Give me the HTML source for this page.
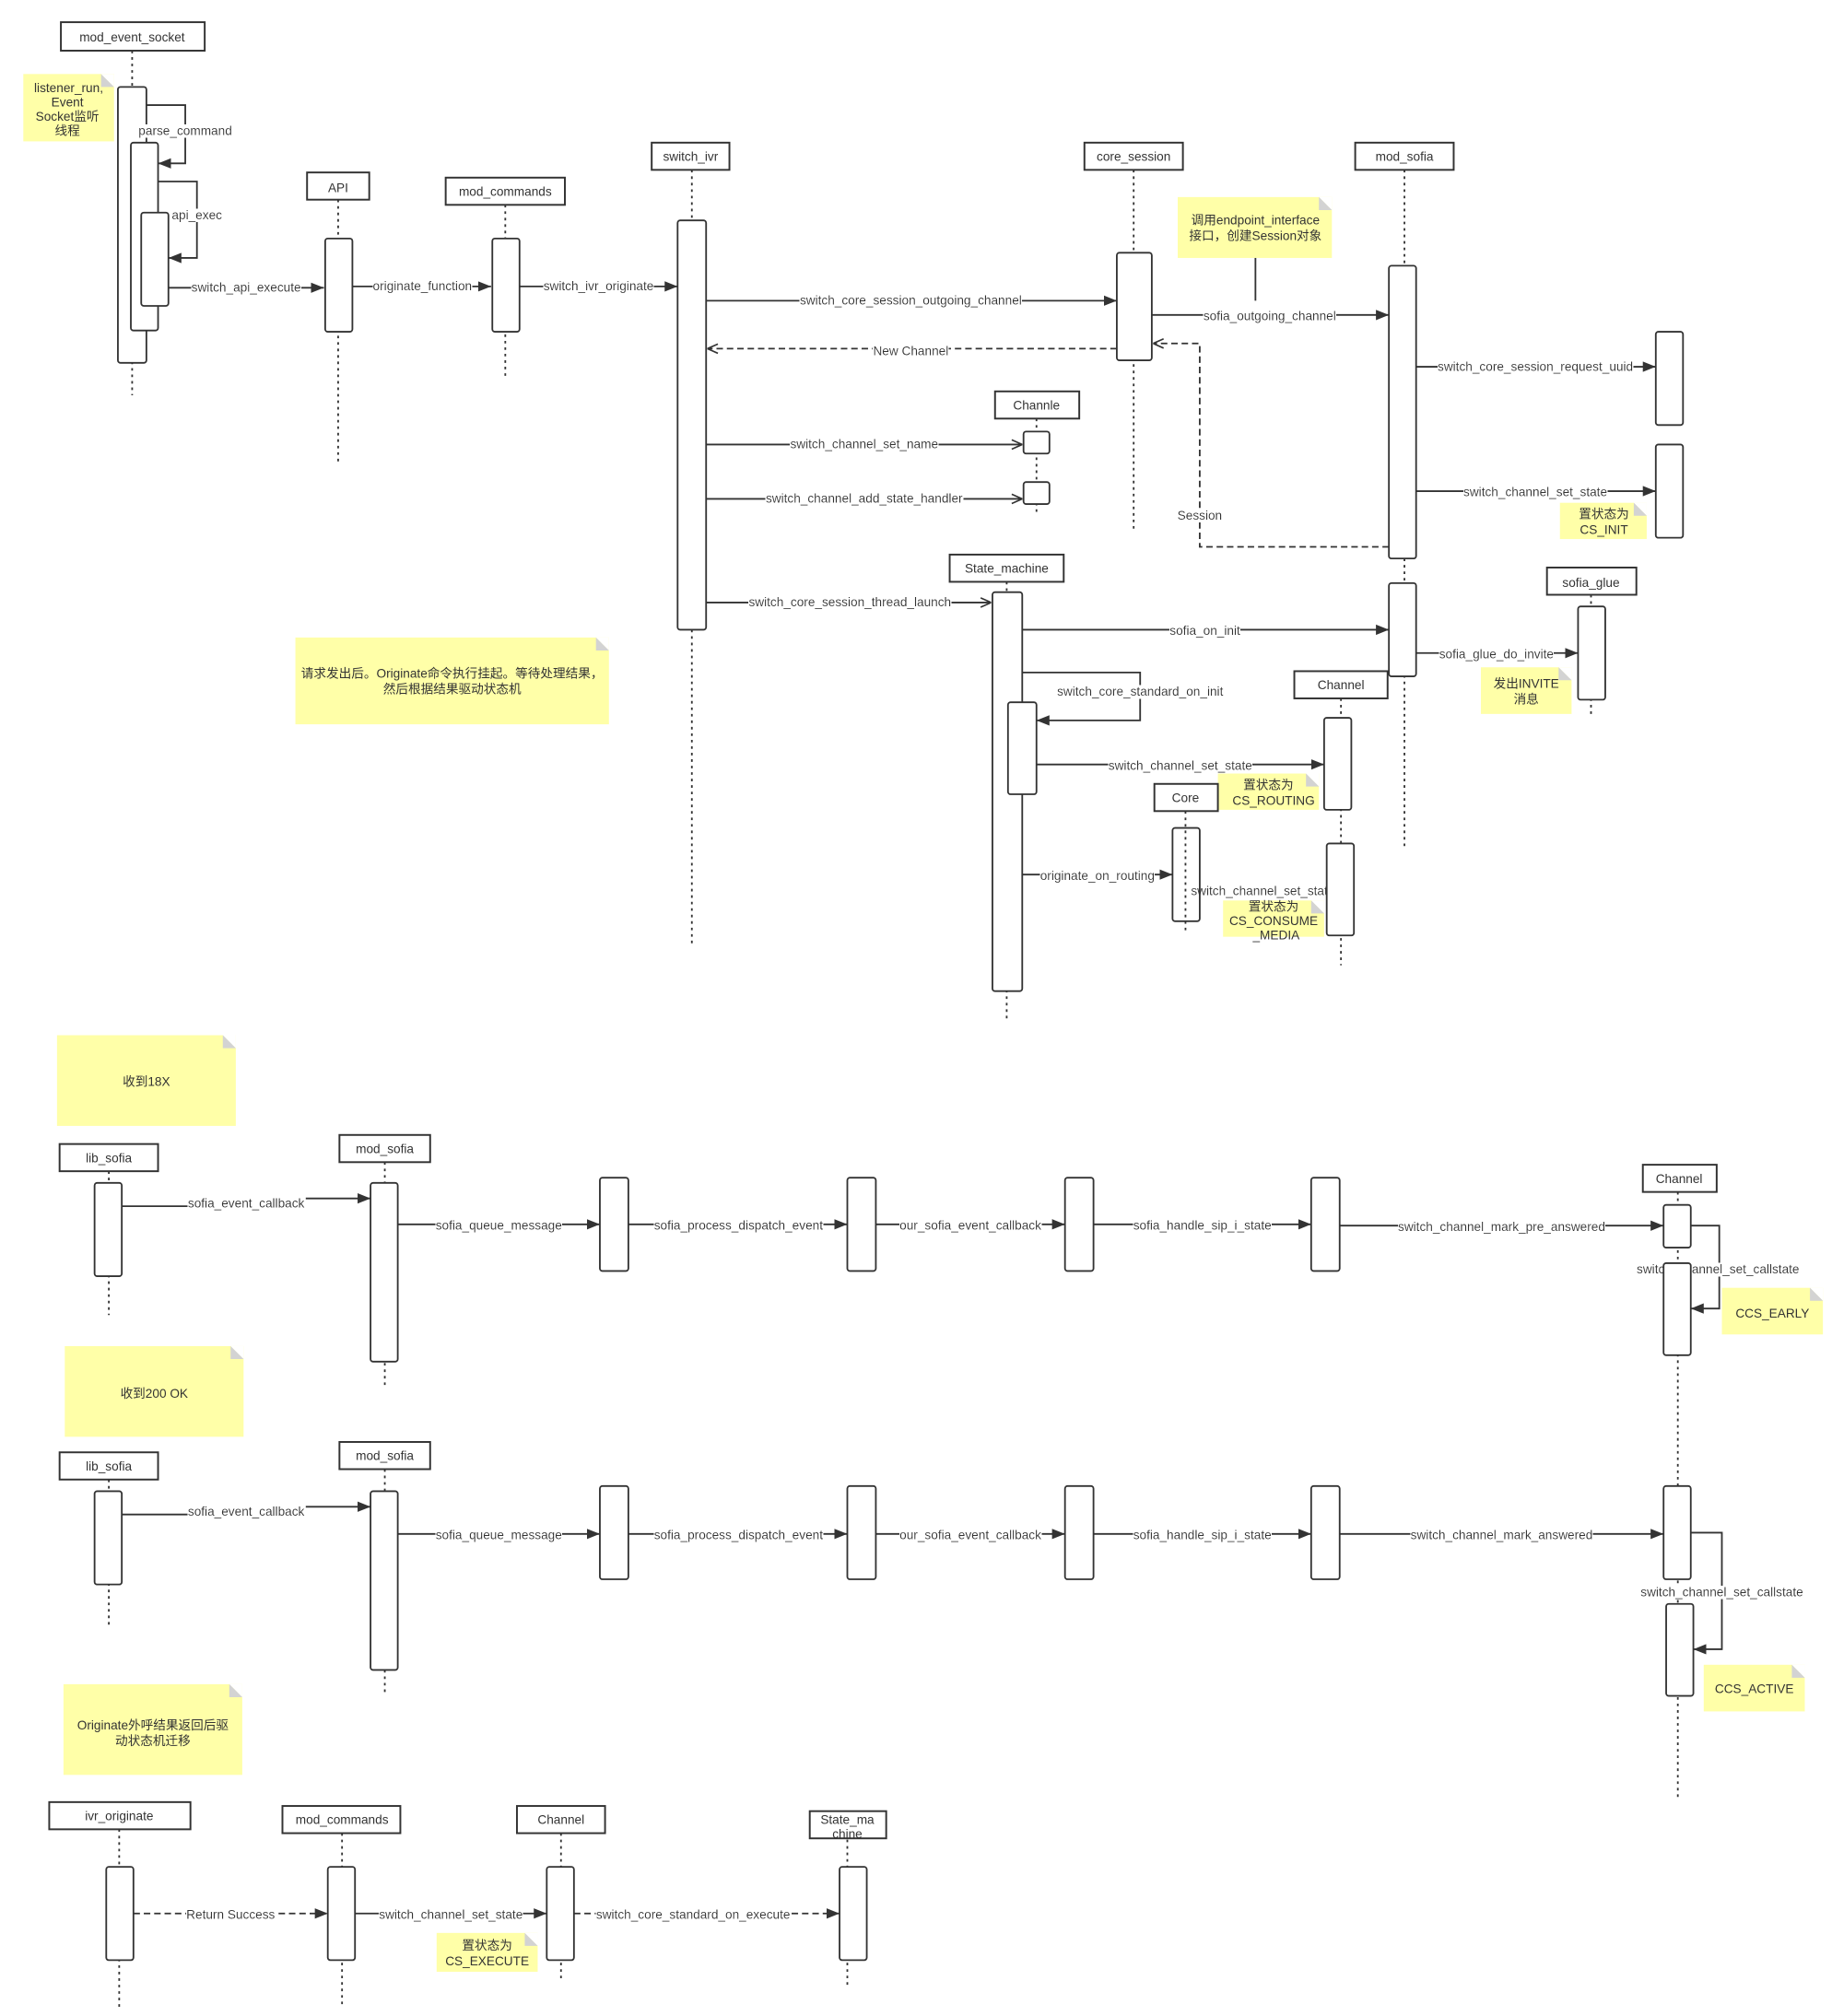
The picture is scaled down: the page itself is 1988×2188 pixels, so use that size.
<!DOCTYPE html>
<html><head><meta charset="utf-8">
<style>
html,body{margin:0;padding:0;background:#fff;}
svg{display:block;}
text{font-family:"Liberation Sans","Noto Sans CJK SC",sans-serif;font-size:9.7px;fill:#333;}
.lb{filter:url(#bg);}
.actor{fill:#fff;stroke:#333;stroke-width:1.4;}
.act{fill:#fff;stroke:#333;stroke-width:1.3;}
.ll{stroke:#333;stroke-width:1.3;stroke-dasharray:2,3;fill:none;}
.m{stroke:#333;stroke-width:1.3;fill:none;}
.d{stroke:#333;stroke-width:1.3;fill:none;stroke-dasharray:5,3;}
.note{fill:#ffffa8;}
.fold{fill:#d3d3d3;}
</style></head><body>
<svg width="1988" height="2188" viewBox="0 0 1414 1556" xmlns="http://www.w3.org/2000/svg">
<defs>
<filter id="bg" x="0" y="0.05" width="1" height="0.95"><feFlood flood-color="#fff"/><feComposite in="SourceGraphic"/></filter>
<marker id="f" viewBox="0 0 10 10" refX="10" refY="5" markerWidth="10" markerHeight="10" markerUnits="userSpaceOnUse" orient="auto"><path d="M0,1 L10,5 L0,9 z" fill="#333"/></marker>
<marker id="o" viewBox="0 0 10 10" refX="10" refY="5" markerWidth="9" markerHeight="9" markerUnits="userSpaceOnUse" orient="auto"><path d="M1,1 L10,5 L1,9" fill="none" stroke="#333" stroke-width="1.3"/></marker>
</defs>

<!-- ===== Notes ===== -->
<g>
<rect class="note" x="18" y="57" width="70" height="52"/><path d="M78,57 L88,57 L88,67z" fill="#fff"/><path class="fold" d="M78,57 L88,67 L78,67z"/>
<text x="53" y="71" text-anchor="middle">listener_run,</text>
<text x="52" y="82" text-anchor="middle">Event</text>
<text x="52" y="93" text-anchor="middle">Socket监听</text>
<text x="52" y="104" text-anchor="middle">线程</text>

<rect class="note" x="909" y="152" width="119" height="47"/><path d="M1018,152 L1028,152 L1028,162z" fill="#fff"/><path class="fold" d="M1018,152 L1028,162 L1018,162z"/>
<text x="969" y="173" text-anchor="middle">调用endpoint_interface</text>
<text x="969" y="185" text-anchor="middle">接口，创建Session对象</text>

<rect class="note" x="1204" y="388" width="67" height="28"/><path d="M1261,388 L1271,388 L1271,398z" fill="#fff"/><path class="fold" d="M1261,388 L1271,398 L1261,398z"/>
<text x="1238" y="400" text-anchor="middle">置状态为</text>
<text x="1238" y="412" text-anchor="middle">CS_INIT</text>

<rect class="note" x="228" y="492" width="242" height="67"/><path d="M460,492 L470,492 L470,502z" fill="#fff"/><path class="fold" d="M460,492 L470,502 L460,502z"/>
<text x="349" y="523" text-anchor="middle">请求发出后。Originate命令执行挂起。等待处理结果，</text>
<text x="349" y="535" text-anchor="middle">然后根据结果驱动状态机</text>

<rect class="note" x="1143" y="515" width="70" height="36"/><path d="M1203,515 L1213,515 L1213,525z" fill="#fff"/><path class="fold" d="M1203,515 L1213,525 L1203,525z"/>
<text x="1178" y="531" text-anchor="middle">发出INVITE</text>
<text x="1178" y="543" text-anchor="middle">消息</text>

<rect class="note" x="940" y="597" width="78" height="28"/><path d="M1008,597 L1018,597 L1018,607z" fill="#fff"/><path class="fold" d="M1008,597 L1018,607 L1008,607z"/>
<text x="979" y="609" text-anchor="middle">置状态为</text>
<text x="983" y="621" text-anchor="middle">CS_ROUTING</text>

<rect class="note" x="944" y="695" width="78" height="28"/><path d="M1012,695 L1022,695 L1022,705z" fill="#fff"/><path class="fold" d="M1012,695 L1022,705 L1012,705z"/>
<text x="983" y="703" text-anchor="middle">置状态为</text>
<text x="983" y="714" text-anchor="middle">CS_CONSUME</text>
<text x="985" y="725" text-anchor="middle">_MEDIA</text>

<rect class="note" x="44" y="799" width="138" height="70"/><path d="M172,799 L182,799 L182,809z" fill="#fff"/><path class="fold" d="M172,799 L182,809 L172,809z"/>
<text x="113" y="838" text-anchor="middle">收到18X</text>

<rect class="note" x="1329" y="994" width="78" height="36"/><path d="M1397,994 L1407,994 L1407,1004z" fill="#fff"/><path class="fold" d="M1397,994 L1407,1004 L1397,1004z"/>
<text x="1368" y="1017" text-anchor="middle">CCS_EARLY</text>

<rect class="note" x="50" y="1039" width="138" height="70"/><path d="M178,1039 L188,1039 L188,1049z" fill="#fff"/><path class="fold" d="M178,1039 L188,1049 L178,1049z"/>
<text x="119" y="1079" text-anchor="middle">收到200 OK</text>

<rect class="note" x="1315" y="1285" width="78" height="36"/><path d="M1383,1285 L1393,1285 L1393,1295z" fill="#fff"/><path class="fold" d="M1383,1285 L1393,1295 L1383,1295z"/>
<text x="1354" y="1307" text-anchor="middle">CCS_ACTIVE</text>

<rect class="note" x="49" y="1300" width="138" height="70"/><path d="M177,1300 L187,1300 L187,1310z" fill="#fff"/><path class="fold" d="M177,1300 L187,1310 L177,1310z"/>
<text x="118" y="1335" text-anchor="middle">Originate外呼结果返回后驱</text>
<text x="118" y="1347" text-anchor="middle">动状态机迁移</text>

<rect class="note" x="337" y="1492" width="78" height="30"/><path d="M405,1492 L415,1492 L415,1502z" fill="#fff"/><path class="fold" d="M405,1492 L415,1502 L405,1502z"/>
<text x="376" y="1505" text-anchor="middle">置状态为</text>
<text x="376" y="1517" text-anchor="middle">CS_EXECUTE</text>
</g>

<!-- ===== Lifelines ===== -->
<g>
<line class="ll" x1="102" y1="39" x2="102" y2="305"/>
<line class="ll" x1="261" y1="154" x2="261" y2="357"/>
<line class="ll" x1="390" y1="158" x2="390" y2="290"/>
<line class="ll" x1="534" y1="131" x2="534" y2="730"/>
<line class="ll" x1="875" y1="131" x2="875" y2="410"/>
<line class="ll" x1="1084" y1="131" x2="1084" y2="655"/>
<line class="ll" x1="800" y1="323" x2="800" y2="395"/>
<line class="ll" x1="777" y1="449" x2="777" y2="787"/>
<line class="ll" x1="1035" y1="539" x2="1035" y2="745"/>
<line class="ll" x1="915" y1="626" x2="915" y2="718"/>
<line class="ll" x1="1228" y1="459" x2="1228" y2="552"/>
<line class="ll" x1="84" y1="904" x2="84" y2="1015"/>
<line class="ll" x1="297" y1="897" x2="297" y2="1070"/>
<line class="ll" x1="1295" y1="920" x2="1295" y2="1390"/>
<line class="ll" x1="84" y1="1142" x2="84" y2="1255"/>
<line class="ll" x1="297" y1="1134" x2="297" y2="1308"/>
<line class="ll" x1="92" y1="1412" x2="92" y2="1550"/>
<line class="ll" x1="264" y1="1415" x2="264" y2="1548"/>
<line class="ll" x1="433" y1="1415" x2="433" y2="1528"/>
<line class="ll" x1="654" y1="1420" x2="654" y2="1532"/>
</g>

<!-- ===== Messages ===== -->
<g>
<polyline class="m" points="113,81 143,81 143,126 122,126" marker-end="url(#f)"/>
<polyline class="m" points="122,140 152,140 152,199 130,199" marker-end="url(#f)"/>
<line class="m" x1="130" y1="222" x2="250" y2="222" marker-end="url(#f)"/>
<text class="lb" x="190" y="225" text-anchor="middle">switch_api_execute</text>
<line class="m" x1="272" y1="221" x2="379" y2="221" marker-end="url(#f)"/>
<text class="lb" x="326" y="224" text-anchor="middle">originate_function</text>
<line class="m" x1="401" y1="221" x2="523" y2="221" marker-end="url(#f)"/>
<text class="lb" x="462" y="224" text-anchor="middle">switch_ivr_originate</text>

<line class="m" x1="545" y1="232" x2="862" y2="232" marker-end="url(#f)"/>
<text class="lb" x="703" y="235" text-anchor="middle">switch_core_session_outgoing_channel</text>
<line class="d" x1="862" y1="269" x2="546" y2="269" marker-end="url(#o)"/>
<text class="lb" x="703" y="274" text-anchor="middle">New Channel</text>
<line class="m" x1="969" y1="199" x2="969" y2="232"/>
<line class="m" x1="889" y1="243" x2="1072" y2="243" marker-end="url(#f)"/>
<text class="lb" x="980" y="247" text-anchor="middle">sofia_outgoing_channel</text>
<polyline class="d" points="1072,422 926,422 926,265 890,265" marker-end="url(#o)"/>
<text class="lb" x="926" y="401" text-anchor="middle">Session</text>

<line class="m" x1="1093" y1="283" x2="1278" y2="283" marker-end="url(#f)"/>
<text class="lb" x="1185" y="286" text-anchor="middle">switch_core_session_request_uuid</text>
<line class="m" x1="1093" y1="379" x2="1278" y2="379" marker-end="url(#f)"/>
<text class="lb" x="1185" y="383" text-anchor="middle">switch_channel_set_state</text>

<line class="m" x1="545" y1="343" x2="789" y2="343" marker-end="url(#o)"/>
<text class="lb" x="667" y="346" text-anchor="middle">switch_channel_set_name</text>
<line class="m" x1="545" y1="385" x2="789" y2="385" marker-end="url(#o)"/>
<text class="lb" x="667" y="388" text-anchor="middle">switch_channel_add_state_handler</text>
<line class="m" x1="545" y1="465" x2="765" y2="465" marker-end="url(#o)"/>
<text class="lb" x="656" y="468" text-anchor="middle">switch_core_session_thread_launch</text>

<line class="m" x1="789" y1="486" x2="1072" y2="486" marker-end="url(#f)"/>
<text class="lb" x="930" y="490" text-anchor="middle">sofia_on_init</text>
<polyline class="m" points="789,519 880,519 880,556 800,556" marker-end="url(#f)"/>
<text class="lb" x="880" y="537" text-anchor="middle">switch_core_standard_on_init</text>
<line class="m" x1="800" y1="590" x2="1022" y2="590" marker-end="url(#f)"/>
<text class="lb" x="911" y="594" text-anchor="middle">switch_channel_set_state</text>
<line class="m" x1="1093" y1="504" x2="1218" y2="504" marker-end="url(#f)"/>
<text class="lb" x="1155" y="508" text-anchor="middle">sofia_glue_do_invite</text>
<line class="m" x1="789" y1="675" x2="905" y2="675" marker-end="url(#f)"/>
<text class="lb" x="847" y="679" text-anchor="middle">originate_on_routing</text>
<text class="lb" x="972" y="691" text-anchor="middle">switch_channel_set_stat</text>

<!-- section 2 -->
<polyline class="m" points="94,931 145,931"/>
<polyline class="m" points="236,925 286,925" marker-end="url(#f)"/>
<text class="lb" x="190" y="932" text-anchor="middle">sofia_event_callback</text>
<line class="m" x1="307" y1="945" x2="463" y2="945" marker-end="url(#f)"/>
<text class="lb" x="385" y="949" text-anchor="middle">sofia_queue_message</text>
<line class="m" x1="485" y1="945" x2="654" y2="945" marker-end="url(#f)"/>
<text class="lb" x="570" y="949" text-anchor="middle">sofia_process_dispatch_event</text>
<line class="m" x1="676" y1="945" x2="822" y2="945" marker-end="url(#f)"/>
<text class="lb" x="749" y="949" text-anchor="middle">our_sofia_event_callback</text>
<line class="m" x1="844" y1="945" x2="1012" y2="945" marker-end="url(#f)"/>
<text class="lb" x="928" y="949" text-anchor="middle">sofia_handle_sip_i_state</text>
<line class="m" x1="1034" y1="946" x2="1284" y2="946" marker-end="url(#f)"/>
<text class="lb" x="1159" y="950" text-anchor="middle">switch_channel_mark_pre_answered</text>
<polyline class="m" points="1305,946 1327,946 1327,1010 1305,1010" marker-end="url(#f)"/>
<text class="lb" x="1326" y="983" text-anchor="middle">switch_channel_set_callstate</text>

<!-- section 3 -->
<polyline class="m" points="94,1169 145,1169"/>
<polyline class="m" points="236,1163 286,1163" marker-end="url(#f)"/>
<text class="lb" x="190" y="1170" text-anchor="middle">sofia_event_callback</text>
<line class="m" x1="307" y1="1184" x2="463" y2="1184" marker-end="url(#f)"/>
<text class="lb" x="385" y="1188" text-anchor="middle">sofia_queue_message</text>
<line class="m" x1="485" y1="1184" x2="654" y2="1184" marker-end="url(#f)"/>
<text class="lb" x="570" y="1188" text-anchor="middle">sofia_process_dispatch_event</text>
<line class="m" x1="676" y1="1184" x2="822" y2="1184" marker-end="url(#f)"/>
<text class="lb" x="749" y="1188" text-anchor="middle">our_sofia_event_callback</text>
<line class="m" x1="844" y1="1184" x2="1012" y2="1184" marker-end="url(#f)"/>
<text class="lb" x="928" y="1188" text-anchor="middle">sofia_handle_sip_i_state</text>
<line class="m" x1="1034" y1="1184" x2="1284" y2="1184" marker-end="url(#f)"/>
<text class="lb" x="1159" y="1188" text-anchor="middle">switch_channel_mark_answered</text>
<polyline class="m" points="1305,1183 1329,1183 1329,1273 1307,1273" marker-end="url(#f)"/>
<text class="lb" x="1329" y="1232" text-anchor="middle">switch_channel_set_callstate</text>

<!-- section 4 -->
<line class="d" x1="103" y1="1477" x2="253" y2="1477" marker-end="url(#f)"/>
<text class="lb" x="178" y="1481" text-anchor="middle">Return Success</text>
<line class="m" x1="274" y1="1477" x2="422" y2="1477" marker-end="url(#f)"/>
<text class="lb" x="348" y="1481" text-anchor="middle">switch_channel_set_state</text>
<line class="d" x1="443" y1="1477" x2="648" y2="1477" marker-end="url(#f)"/>
<text class="lb" x="535" y="1481" text-anchor="middle">switch_core_standard_on_execute</text>
</g>

<!-- ===== Activations ===== -->
<g>
<rect class="act" x="91" y="67" width="22" height="213" rx="2"/>
<rect class="act" x="101" y="110" width="21" height="145" rx="2"/>
<rect class="act" x="109" y="164" width="21" height="72" rx="2"/>
<rect class="act" x="251" y="184" width="21" height="72" rx="2"/>
<rect class="act" x="380" y="184" width="21" height="72" rx="2"/>
<rect class="act" x="523" y="170" width="22" height="316" rx="2"/>
<rect class="act" x="862" y="195" width="27" height="83" rx="2"/>
<rect class="act" x="1072" y="205" width="21" height="226" rx="2"/>
<rect class="act" x="1072" y="450" width="21" height="72" rx="2"/>
<rect class="act" x="1278" y="256" width="21" height="72" rx="2"/>
<rect class="act" x="1278" y="343" width="21" height="72" rx="2"/>
<rect class="act" x="790" y="333" width="20" height="17" rx="2"/>
<rect class="act" x="790" y="372" width="20" height="17" rx="2"/>
<rect class="act" x="766" y="457" width="23" height="308" rx="2"/>
<rect class="act" x="778" y="542" width="22" height="71" rx="2"/>
<rect class="act" x="1022" y="554" width="21" height="71" rx="2"/>
<rect class="act" x="1024" y="651" width="21" height="71" rx="2"/>
<rect class="act" x="905" y="639" width="21" height="72" rx="2" style="fill:none"/>
<rect class="act" x="1218" y="468" width="21" height="72" rx="2"/>

<rect class="act" x="73" y="913" width="21" height="72" rx="2"/>
<rect class="act" x="286" y="913" width="21" height="138" rx="2"/>
<rect class="act" x="463" y="909" width="22" height="72" rx="2"/>
<rect class="act" x="654" y="909" width="22" height="72" rx="2"/>
<rect class="act" x="822" y="909" width="22" height="72" rx="2"/>
<rect class="act" x="1012" y="909" width="22" height="72" rx="2"/>
<rect class="act" x="1284" y="930" width="21" height="33" rx="2"/>
<rect class="act" x="1284" y="975" width="21" height="71" rx="2"/>

<rect class="act" x="73" y="1151" width="21" height="72" rx="2"/>
<rect class="act" x="286" y="1151" width="21" height="138" rx="2"/>
<rect class="act" x="463" y="1147" width="22" height="72" rx="2"/>
<rect class="act" x="654" y="1147" width="22" height="72" rx="2"/>
<rect class="act" x="822" y="1147" width="22" height="72" rx="2"/>
<rect class="act" x="1012" y="1147" width="22" height="72" rx="2"/>
<rect class="act" x="1284" y="1147" width="21" height="72" rx="2"/>
<rect class="act" x="1286" y="1238" width="21" height="71" rx="2"/>

<rect class="act" x="82" y="1441" width="21" height="72" rx="2"/>
<rect class="act" x="253" y="1441" width="21" height="72" rx="2"/>
<rect class="act" x="422" y="1441" width="21" height="72" rx="2"/>
<rect class="act" x="648" y="1441" width="21" height="72" rx="2"/>
</g>

<!-- labels drawn over activations -->
<text class="lb" x="143" y="104" text-anchor="middle">parse_command</text>
<text class="lb" x="152" y="169" text-anchor="middle">api_exec</text>

<!-- ===== Actor boxes ===== -->
<g>
<rect class="actor" x="47" y="17" width="111" height="22"/><text x="102" y="32" text-anchor="middle">mod_event_socket</text>
<rect class="actor" x="237" y="133" width="48" height="21"/><text x="261" y="148" text-anchor="middle">API</text>
<rect class="actor" x="344" y="137" width="92" height="21"/><text x="390" y="151" text-anchor="middle">mod_commands</text>
<rect class="actor" x="503" y="110" width="60" height="21"/><text x="533" y="124" text-anchor="middle">switch_ivr</text>
<rect class="actor" x="837" y="110" width="76" height="21"/><text x="875" y="124" text-anchor="middle">core_session</text>
<rect class="actor" x="1046" y="110" width="76" height="21"/><text x="1084" y="124" text-anchor="middle">mod_sofia</text>
<rect class="actor" x="768" y="302" width="65" height="21"/><text x="800" y="316" text-anchor="middle">Channle</text>
<rect class="actor" x="733" y="428" width="88" height="21"/><text x="777" y="442" text-anchor="middle">State_machine</text>
<rect class="actor" x="1194" y="438" width="69" height="21"/><text x="1228" y="453" text-anchor="middle">sofia_glue</text>
<rect class="actor" x="999" y="518" width="72" height="21"/><text x="1035" y="532" text-anchor="middle">Channel</text>
<rect class="actor" x="891" y="605" width="49" height="21"/><text x="915" y="619" text-anchor="middle">Core</text>

<rect class="actor" x="46" y="883" width="76" height="21"/><text x="84" y="897" text-anchor="middle">lib_sofia</text>
<rect class="actor" x="262" y="876" width="70" height="21"/><text x="297" y="890" text-anchor="middle">mod_sofia</text>
<rect class="actor" x="1268" y="899" width="57" height="21"/><text x="1296" y="913" text-anchor="middle">Channel</text>
<rect class="actor" x="46" y="1121" width="76" height="21"/><text x="84" y="1135" text-anchor="middle">lib_sofia</text>
<rect class="actor" x="262" y="1113" width="70" height="21"/><text x="297" y="1127" text-anchor="middle">mod_sofia</text>

<rect class="actor" x="38" y="1391" width="109" height="21"/><text x="92" y="1405" text-anchor="middle">ivr_originate</text>
<rect class="actor" x="218" y="1394" width="91" height="21"/><text x="264" y="1408" text-anchor="middle">mod_commands</text>
<rect class="actor" x="399" y="1394" width="68" height="21"/><text x="433" y="1408" text-anchor="middle">Channel</text>
<rect class="actor" x="625" y="1398" width="59" height="21"/><text x="654" y="1408" text-anchor="middle">State_ma</text><text x="654" y="1419" text-anchor="middle">chine</text>
</g>
</svg>
</body></html>
